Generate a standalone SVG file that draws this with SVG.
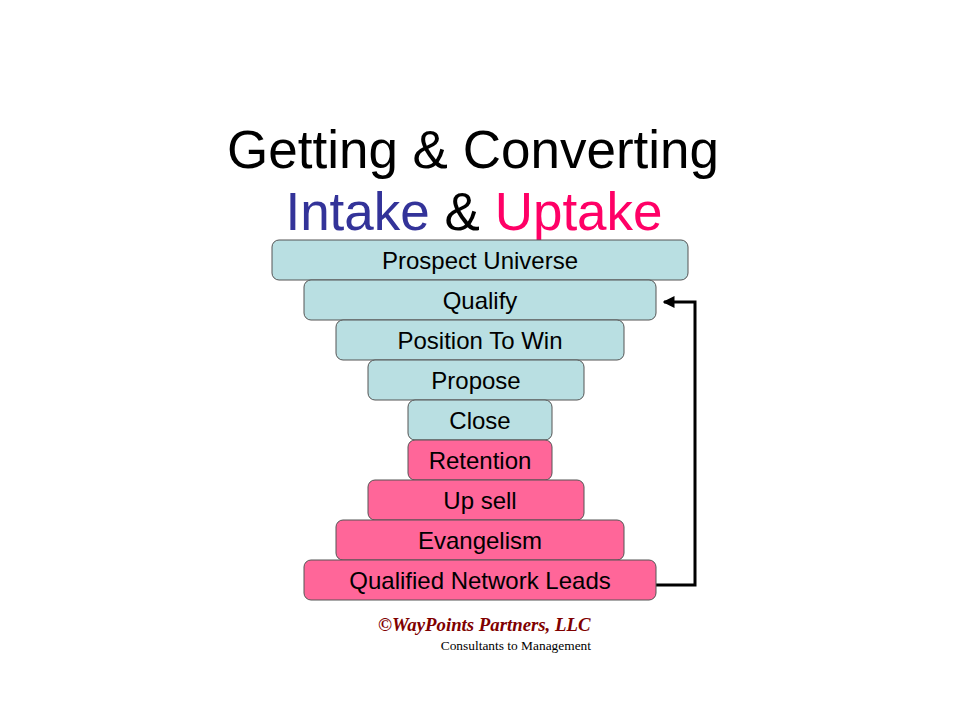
<svg xmlns="http://www.w3.org/2000/svg" width="960" height="720" viewBox="0 0 960 720">
<style>
.t{fill:#B9DFE2;stroke:#555;stroke-width:1}
.p{fill:#FF6699;stroke:#555;stroke-width:1}
.l{font-family:"Liberation Sans",Arial,sans-serif;font-size:24px;fill:#000;text-anchor:middle}
.h{font-family:"Liberation Sans",Arial,sans-serif;font-size:53px;text-anchor:middle}
</style>
<defs>
<marker id="ah" markerWidth="4" markerHeight="4" refX="3.5" refY="2" orient="auto" markerUnits="strokeWidth">
<path d="M0,0 L4,2 L0,4 Z" fill="#000"/>
</marker>
</defs>
<rect width="960" height="720" fill="#fff"/>
<text class="h" x="473" y="168" fill="#000">Getting &amp; Converting</text>
<text class="h" x="474" y="230"><tspan fill="#333399">Intake</tspan><tspan fill="#000"> &amp; </tspan><tspan fill="#FF0066">Uptake</tspan></text>
<g id="connectors">
<path d="M656,585 H695 V302 H664" fill="none" stroke="#000" stroke-width="3" marker-end="url(#ah)"/>
</g>
<g id="n1"><rect class="t" x="272" y="240" width="416" height="40" rx="7"/><text class="l" x="480" y="269">Prospect Universe</text></g>
<g id="n2"><rect class="t" x="304" y="280" width="352" height="40" rx="7"/><text class="l" x="480" y="309">Qualify</text></g>
<g id="n3"><rect class="t" x="336" y="320" width="288" height="40" rx="7"/><text class="l" x="480" y="349">Position To Win</text></g>
<g id="n4"><rect class="t" x="368" y="360" width="216" height="40" rx="7"/><text class="l" x="476" y="389">Propose</text></g>
<g id="n5"><rect class="t" x="408" y="400" width="144" height="40" rx="7"/><text class="l" x="480" y="429">Close</text></g>
<g id="n6"><rect class="p" x="408" y="440" width="144" height="40" rx="7"/><text class="l" x="480" y="469">Retention</text></g>
<g id="n7"><rect class="p" x="368" y="480" width="216" height="40" rx="7"/><text class="l" x="480" y="509">Up sell</text></g>
<g id="n8"><rect class="p" x="336" y="520" width="288" height="40" rx="7"/><text class="l" x="480" y="549">Evangelism</text></g>
<g id="n9"><rect class="p" x="304" y="560" width="352" height="40" rx="7"/><text class="l" x="480" y="589">Qualified Network Leads</text></g>
<text x="378" y="631" font-family="'Liberation Serif','Times New Roman',serif" font-size="18.8" font-weight="bold" font-style="italic" fill="#800000">©WayPoints Partners, LLC</text>
<text x="591" y="650" text-anchor="end" font-family="'Liberation Serif','Times New Roman',serif" font-size="13.4" fill="#000">Consultants to Management</text>
</svg>
